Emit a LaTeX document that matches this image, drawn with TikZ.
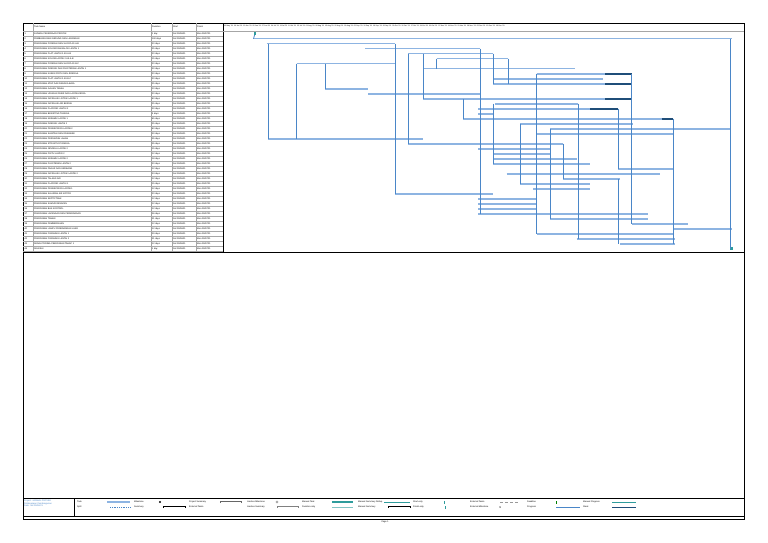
\documentclass[tikz,border=0pt]{standalone}
\usepackage{fontspec}
\setmainfont{Liberation Sans}
\begin{document}
\begin{tikzpicture}[x=1pt,y=-1pt,
  txt/.style={font=\fontsize{2.2}{2.4}\selectfont,inner sep=0pt,anchor=west},
  bar/.style={draw=barblue,line width=1.6pt},
  dk/.style={draw=barnavy,line width=1.6pt},
  lnk/.style={draw=linkblue,line width=0.8pt},
  grid/.style={draw=black!35,line width=0.2pt}]
\definecolor{barblue}{HTML}{8DB4E2}
\definecolor{linkblue}{HTML}{4A86C8}
\definecolor{barnavy}{HTML}{1F4E79}
\definecolor{teal1}{HTML}{2E9C9C}
\useasboundingbox (0,0) rectangle (768,543);
\fill[white] (0,0) rectangle (768,543);
% frame
\draw[line width=0.6pt] (23,23) rectangle (744,519);
\draw[line width=0.4pt] (23,252) -- (744,252);
\draw[line width=0.4pt] (223,23) -- (223,252);
% table header
\draw[grid] (23,31) -- (223,31);
\foreach \c in {33,151,172,196} \draw[grid] (\c,23) -- (\c,252);
\node[txt] at (34,27) {Task Name};
\node[txt] at (152,27) {Duration};
\node[txt] at (173,27) {Start};
\node[txt] at (197,27) {Finish};
\node[txt] at (224,26.5) {\fontsize{1.8}{2}\selectfont 30 May '21 \ 06 Jun '21 \ 13 Jun '21 \ 20 Jun '21 \ 27 Jun '21 \ 04 Jul '21 \ 11 Jul '21 \ 18 Jul '21 \ 25 Jul '21 \ 01 Aug '21 \ 08 Aug '21 \ 15 Aug '21 \ 22 Aug '21 \ 29 Aug '21 \ 05 Sep '21 \ 12 Sep '21 \ 19 Sep '21 \ 26 Sep '21 \ 03 Oct '21 \ 10 Oct '21 \ 17 Oct '21 \ 24 Oct '21 \ 31 Oct '21 \ 07 Nov '21 \ 14 Nov '21 \ 21 Nov '21 \ 28 Nov '21 \ 05 Dec '21 \ 12 Dec '21 \ 19 Dec '21};
\draw[grid] (223,31) -- (744,31);
% table rows
\foreach \i/\nm/\du in {1/JADWAL PEKERJAAN PROYEK/1 day,2/PEMBANGUNAN GEDUNG DAN LAPANGAN/190 days,3/PEKERJAAN PONDASI DAN SLOOF AS A-B/20 days,4/PEKERJAAN KOLOM DAN BALOK LANTAI 1/25 days,5/PEKERJAAN PLAT LANTAI 2 AS A-B/20 days,6/PEKERJAAN KOLOM LANTAI 2 AS A-B/15 days,7/PEKERJAAN PONDASI DAN SLOOF AS B-C/20 days,8/PEKERJAAN DINDING DAN PLESTERAN LANTAI 1/30 days,9/PEKERJAAN KUSEN PINTU DAN JENDELA/20 days,10/PEKERJAAN PLAT LANTAI 2 AS B-C/20 days,11/PEKERJAAN ATAP DAN RANGKA BAJA/25 days,12/PEKERJAAN GALIAN TANAH/10 days,13/PEKERJAAN URUGAN PASIR DAN LANTAI KERJA/20 days,14/PEKERJAAN INSTALASI LISTRIK LANTAI 1/40 days,15/PEKERJAAN INSTALASI AIR BERSIH/25 days,16/PEKERJAAN PLAFOND LANTAI 2/30 days,17/PEKERJAAN BEKISTING TANGGA/5 days,18/PEKERJAAN KERAMIK LANTAI 1/45 days,19/PEKERJAAN DINDING LANTAI 2/25 days,20/PEKERJAAN PENGECATAN LANTAI 2/40 days,21/PEKERJAAN SANITASI DAN DRAINASE/30 days,22/PEKERJAAN PERSIAPAN LAHAN/35 days,23/PEKERJAAN STRUKTUR TANGGA/35 days,24/PEKERJAAN JENDELA LANTAI 2/15 days,25/PEKERJAAN PINTU LANTAI 2/12 days,26/PEKERJAAN KERAMIK LANTAI 2/18 days,27/PEKERJAAN PLESTERAN LANTAI 2/20 days,28/PEKERJAAN PAGAR DAN GERBANG/12 days,29/PEKERJAAN INSTALASI LISTRIK LANTAI 2/33 days,30/PEKERJAAN TALANG AIR/12 days,31/PEKERJAAN PLAFOND LANTAI 1/15 days,32/PEKERJAAN PENGECATAN LANTAI 1/12 days,33/PEKERJAAN SALURAN AIR KOTOR/20 days,34/PEKERJAAN SEPTICTANK/12 days,35/PEKERJAAN SUMUR RESAPAN/12 days,36/PEKERJAAN BAK KONTROL/12 days,37/PEKERJAAN LAPANGAN DAN PERKERASAN/36 days,38/PEKERJAAN TAMAN/21 days,39/PEKERJAAN PEMBERSIHAN/12 days,40/PEKERJAAN LAMPU PENERANGAN LUAR/12 days,41/PEKERJAAN FINISHING LANTAI 1/29 days,42/PEKERJAAN FINISHING LANTAI 2/21 days,43/SERAH TERIMA PEKERJAAN TAHAP 1/12 days,44/SELESAI/1 day}{
  \pgfmathsetmacro{\yy}{31+5*\i}
  \draw[grid] (23,\yy) -- (223,\yy);
  \node[txt] at (24.5,\yy-2.5) {\i};
  \node[txt] at (34,\yy-2.5) {\nm};
  \node[txt] at (152,\yy-2.5) {\du};
  \node[txt] at (173,\yy-2.5) {Sat 05/06/21};
  \node[txt] at (197,\yy-2.5) {Mon 05/07/21};
}
% Gantt bars: row/xstart/xend (zoom coords -> px)
\foreach \r/\a/\b in {2/10/1445,3/50/435,4/345/690,5/475/730,6/560/775,7/140/435,8/520/975,9/860/1145,10/730/1060,11/730/1145,12/225/355,13/355/690,14/520/1145,15/735/985,16/685/1105,17/685/730,18/640/1270,19/810/1150,20/900/1440,21/860/1270,22/55/520,23/475/940,24/685/900,25/730/900,26/730/980,27/730/1020,28/1105/1270,29/770/1230,30/940/1110,31/810/1020,32/850/1020,33/435/730,34/685/860,35/685/860,36/685/860,37/685/1195,38/900/1195,39/1145/1315,40/1270/1445,41/860/1270,42/980/1275,43/1110/1275}{
  \pgfmathsetmacro{\yy}{33.7+5*(\r-1)}
  \draw[bar] (250+\a/3,\yy) coordinate (s\r) -- (250+\b/3,\yy) coordinate (e\r);
}
% critical (dark) parts
\foreach \r/\a/\b in {9/1065/1145,11/1065/1145,14/1065/1145,16/1020/1105,18/1235/1270}{
  \pgfmathsetmacro{\yy}{33.7+5*(\r-1)}
  \draw[dk] (250+\a/3,\yy) -- (250+\b/3,\yy);
}
% milestones
\node[fill=teal1,minimum size=2.5pt,inner sep=0pt] (m1) at (255,33.7) {};
\node[fill=teal1,minimum size=2.5pt,inner sep=0pt] (m44) at (731.5,248.7) {};
% dependency links: x(zoom)/row1/row2
\foreach \x/\p/\q in {55/3/22,140/7/22,225/7/12,435/3/33,475/5/23,520/5/14,560/6/8,640/14/18,690/4/37,730/5/11,730/15/27,775/6/11,810/19/31,860/9/41,900/20/38,940/23/30,985/15/42,1105/16/28,1105/30/43,1145/9/39,1270/18/43,1440/2/44}{
  \pgfmathsetmacro{\ya}{33.7+5*(\p-1)}
  \pgfmathsetmacro{\yb}{33.7+5*(\q-1)}
  \draw[lnk] (250+\x/3,\ya) -- (250+\x/3,\yb);
}
\draw[lnk] (m1) -- (253.5,38.7);
% legend
\draw[line width=0.5pt] (23,498) -- (744,498);
\draw[line width=0.4pt] (23,516) -- (744,516);
\draw[line width=0.4pt] (74,498) -- (74,516);
\node[txt,text=linkblue,align=left,anchor=north west] at (24,500) {Project: JADWAL PROYEK\\Pelaksanaan Pembangunan\\Date: Sat 05/06/21};
\node[txt] at (77,502) {Task}; \node[txt] at (77,507) {Split};
\draw[bar,line width=1.2pt] (107,502) -- (130,502);
\draw[linkblue,densely dotted,line width=0.8pt] (110,507) -- (130,507);
\node[txt] at (134,502) {Milestone}; \node[txt] at (134,507) {Summary};
\node[fill=black,rotate=45,minimum size=1.6pt,inner sep=0pt] at (160,502) {};
\draw[line width=0.8pt] (163,507.8) -- (163,506.5) -- (185,506.5) -- (185,507.8);
\node[txt] at (189,502) {Project Summary}; \node[txt] at (189,507) {External Tasks};
\draw[line width=0.5pt,black!60] (220,503) -- (220,501.5) -- (241,501.5) -- (241,503);
\node[txt] at (247,502) {Inactive Milestone}; \node[txt] at (247,507) {Inactive Summary};
\node[draw=black!50,rotate=45,minimum size=1.6pt,inner sep=0pt] at (277,502) {};
\draw[line width=0.4pt,black!50] (277,508) -- (277,506.5) -- (298,506.5) -- (298,508);
\node[txt] at (302,502) {Manual Task}; \node[txt] at (302,507) {Duration-only};
\draw[teal1,line width=1.2pt] (332,502) -- (353,502);
\draw[teal1!60,line width=1pt] (332,507) -- (353,507);
\node[txt] at (358,502) {Manual Summary Rollup}; \node[txt] at (358,507) {Manual Summary};
\draw[teal1,line width=1pt] (384,502) -- (410,502);
\draw[line width=0.5pt] (388,508) -- (388,506.5) -- (410,506.5) -- (410,508);
\node[txt] at (413,502) {Start-only}; \node[txt] at (413,507) {Finish-only};
\draw[teal1,line width=0.7pt] (444,501) -- (444,503.5);
\draw[teal1,line width=0.7pt] (445,506) -- (445,508.5);
\node[txt] at (470,502) {External Tasks}; \node[txt] at (470,507) {External Milestone};
\draw[black!40,densely dashed,line width=0.6pt] (500,502) -- (518,502);
\node[fill=black!50,rotate=45,minimum size=1.4pt,inner sep=0pt] at (500,507) {};
\node[txt] at (527,502) {Deadline}; \node[txt] at (527,507) {Progress};
\draw[green!50!black,line width=0.5pt] (556,501) -- (556,503.5);
\draw[linkblue,line width=0.6pt] (556,507) -- (580,507);
\node[txt] at (583,502) {Manual Progress}; \node[txt] at (583,507) {Slack};
\draw[teal1,line width=0.6pt] (612,502) -- (636,502);
\draw[barnavy,line width=0.6pt] (612,507) -- (636,507);
\node[txt,anchor=center] at (385,522) {Page 1};
\end{tikzpicture}
\end{document}
